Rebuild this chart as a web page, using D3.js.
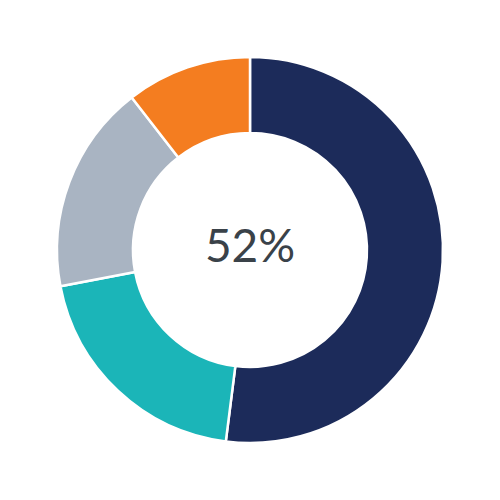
<html>
<head>
<script src="https://cdn.jsdelivr.net/npm/d3@7"></script>
<style>
  body { margin: 0; background: #fff; }
</style>
</head>
<body>
<script>
  // slice data, clockwise from 12 o'clock
  var labels = ["A", "B", "C", "D"];
  var values = [52, 20, 17.5, 10.5];
  var colors = ["#1c2b5a", "#1bb5b8", "#a9b4c2", "#f47d20"];
  var centerLabel = "52%";

  var w = 500, h = 500;
  var outerR = 193, innerR = 117;

  var svg = d3.select("body").append("svg")
    .attr("width", w)
    .attr("height", h);

  var g = svg.append("g")
    .attr("transform", "translate(" + w / 2 + "," + h / 2 + ")");

  var pie = d3.pie().sort(null).value(function(d) { return d; });
  var arc = d3.arc().innerRadius(innerR).outerRadius(outerR);
  var color = d3.scaleOrdinal().domain(labels).range(colors);

  g.selectAll("path")
    .data(pie(values))
    .enter().append("path")
    .attr("d", arc)
    .attr("fill", function(d, i) { return color(labels[i]); })
    .attr("stroke", "#fff")
    .attr("stroke-width", 2.5);

  g.append("text")
    .text(centerLabel)
    .attr("text-anchor", "middle")
    .attr("y", 12)
    .attr("font-family", "Lato, 'Open Sans', sans-serif")
    .attr("font-weight", 400)
    .attr("font-size", 46)
    .attr("fill", "#3a4249");
</script>
</body>
</html>
